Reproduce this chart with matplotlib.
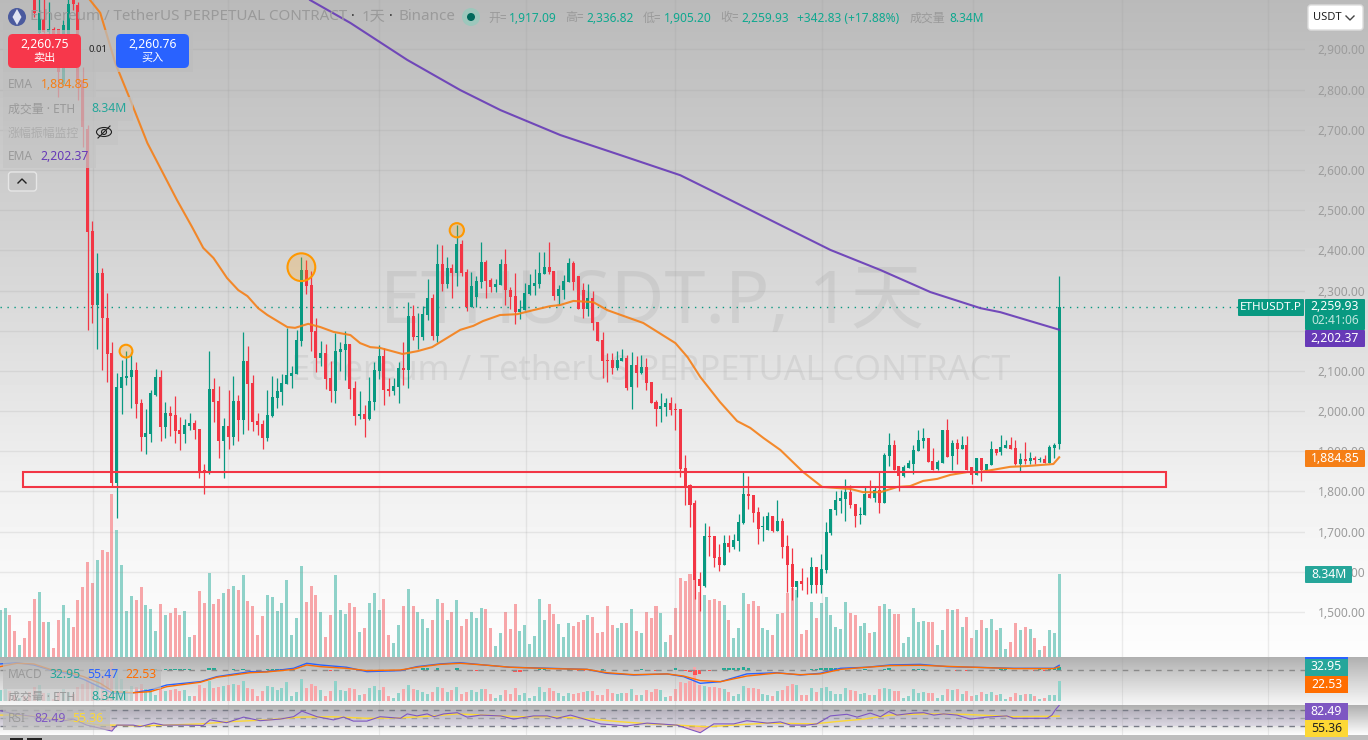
import numpy as np
import matplotlib
matplotlib.use('Agg')
import matplotlib.pyplot as plt
from matplotlib.patches import Rectangle, FancyBboxPatch, Circle, Ellipse, Polygon
from matplotlib.transforms import Bbox, TransformedBbox
from matplotlib.ticker import FuncFormatter

plt.rcParams['font.family'] = ['Noto Sans', 'Noto Sans CJK SC', 'DejaVu Sans']

# DATA - daily candles, first ones sit above the visible range
open_px = [3110,3130,3170,3150,3125,3140,3105,3060,2940,2977,
2944,2952,2950,2815,2915,3030,3010,2824,2703,2448,
2264,2344,2231,2144,1821,2057,2082,2085,2102,2020,
1935,1943,2040,2085,1960,1995,1990,1952,1943,1962,
1970,1955,1853,1848,2055,2025,1925,1963,1935,2025,
1978,2124,2070,1975,1967,1933,1988,2032,2047,2067,
2087,2092,2174,2351,2314,2199,2132,2144,2082,2050,
2147,2152,2168,2057,1987,1992,1980,2022,2099,2137,
2055,2050,2060,2107,2102,2236,2184,2184,2239,2281,
2187,2366,2316,2356,2344,2416,2346,2259,2284,2321,
2371,2326,2309,2314,2366,2301,2286,2246,2251,2291,
2311,2316,2341,2358,2348,2286,2301,2321,2368,2336,
2301,2254,2281,2221,2177,2127,2127,2107,2124,2132,
2060,2114,2095,2110,2072,2022,2005,2010,2020,2005,
2005,1858,1815,1770,1581,1564,1689,1689,1637,1616,
1671,1661,1676,1721,1793,1791,1748,1711,1704,1739,
1701,1726,1664,1619,1562,1577,1573,1567,1612,1567,
1604,1696,1753,1776,1781,1798,1768,1741,1741,1793,
1783,1803,1771,1888,1915,1863,1838,1858,1868,1900,
1925,1933,1875,1855,1870,1953,1888,1920,1905,1915,
1861,1841,1883,1853,1865,1905,1897,1908,1915,1908,
1868,1880,1875,1883,1878,1880,1870,1908,1917.09]

close_px = [3130,3170,3150,3125,3140,3105,3060,2990,2990,2944,
2952,2928,2845,2960,3013,3013,2825,2706,2446,2264,
2344,2231,2142,1821,2060,2085,2088,2102,2017,1935,
1945,2045,2085,1960,1995,1988,1950,1943,1965,1970,
1953,1848,1848,2055,2022,1925,1963,1935,2025,1978,
2124,2067,1973,1965,1933,1990,2035,2050,2070,2090,
2095,2177,2351,2311,2197,2132,2144,2080,2050,2149,
2154,2167,2055,1987,1992,1980,2025,2102,2137,2052,
2050,2062,2107,2102,2236,2184,2187,2241,2281,2187,
2366,2316,2356,2344,2416,2344,2259,2311,2324,2371,
2324,2309,2316,2366,2301,2284,2246,2254,2294,2314,
2319,2344,2358,2346,2286,2304,2324,2368,2321,2254,
2254,2281,2219,2174,2124,2124,2107,2127,2132,2057,
2114,2095,2110,2070,2020,2005,2012,2020,2002,2002,
1855,1808,1766,1579,1564,1689,1687,1635,1616,1671,
1661,1679,1724,1793,1788,1746,1706,1714,1739,1701,
1726,1661,1616,1562,1577,1569,1571,1612,1567,1606,
1699,1756,1778,1783,1798,1766,1738,1744,1793,1783,
1803,1771,1890,1915,1853,1838,1861,1870,1903,1928,
1933,1873,1853,1873,1953,1885,1920,1905,1915,1853,
1841,1883,1853,1868,1905,1895,1910,1915,1905,1868,
1880,1875,1883,1878,1880,1870,1910,1915,2259.93]

high_px = [3150,3190,3185,3165,3160,3150,3115,3075,3030,3030,
3019,2957,2952,2973,3030,3040,3019,2857,2712,2473,
2393,2356,2294,2172,2095,2127,2149,2147,2122,2030,
2005,2052,2105,2102,2022,2012,2037,1985,1980,1995,
1977,1955,1868,2149,2082,2062,1983,2052,2087,2040,
2197,2162,2090,1995,1977,2052,2087,2082,2092,2207,
2112,2202,2383,2376,2348,2232,2174,2167,2124,2194,
2172,2199,2168,2075,2050,2015,2085,2122,2164,2157,
2082,2082,2122,2172,2271,2264,2244,2261,2329,2291,
2416,2413,2383,2366,2463,2426,2354,2346,2336,2421,
2376,2331,2329,2378,2403,2309,2344,2276,2319,2341,
2353,2396,2396,2421,2348,2314,2339,2381,2373,2336,
2319,2316,2299,2221,2197,2144,2144,2149,2154,2139,
2147,2137,2139,2132,2072,2027,2045,2032,2035,2020,
2005,1890,1818,1778,1598,1720,1714,1689,1670,1691,
1691,1694,1744,1848,1838,1791,1761,1738,1748,1739,
1778,1734,1691,1658,1577,1608,1587,1636,1612,1644,
1724,1756,1802,1803,1831,1816,1768,1761,1811,1828,
1811,1848,1895,1945,1928,1863,1866,1878,1915,1953,
1958,1933,1908,1878,1953,1980,1928,1930,1938,1938,
1861,1883,1883,1868,1925,1905,1940,1928,1935,1928,
1895,1923,1898,1888,1885,1890,1915,1920,2336.82]

low_px = [3090,3110,3135,3105,3110,3085,3040,2980,2925,2940,
2932,2915,2782,2811,2900,2998,2774,2658,2202,2218,
2154,2102,2073,1812,1734,1992,2065,2007,1983,1900,
1893,1923,2037,1925,1933,1938,1920,1903,1920,1953,
1930,1833,1793,1843,1972,1883,1833,1905,1915,1925,
1943,1953,1950,1940,1905,1925,1985,2007,2015,2067,
2057,2092,2162,2291,2149,2097,2112,2055,2022,2020,
2100,2077,2031,1965,1980,1935,1977,2002,2080,2015,
2037,2040,2020,2065,2057,2177,2154,2177,2226,2177,
2172,2299,2306,2281,2311,2336,2249,2259,2259,2306,
2281,2296,2296,2314,2264,2254,2217,2229,2251,2289,
2289,2306,2341,2341,2276,2264,2279,2321,2301,2254,
2231,2236,2202,2174,2082,2072,2092,2102,2124,2052,
2005,2060,2092,2052,2020,1963,1972,1988,1990,1953,
1835,1766,1712,1533,1503,1563,1640,1612,1602,1616,
1649,1656,1651,1719,1756,1724,1669,1676,1704,1699,
1701,1633,1549,1529,1538,1554,1544,1548,1548,1548,
1596,1691,1741,1745,1726,1758,1711,1719,1741,1783,
1774,1746,1771,1863,1853,1802,1836,1858,1843,1900,
1908,1873,1853,1853,1870,1885,1853,1868,1905,1853,
1818,1841,1826,1853,1865,1890,1890,1908,1905,1866,
1851,1868,1868,1868,1873,1870,1870,1883,1905.20]

# volume in millions
volume_m = [4.7,4.9,4.2,2.6,1.2,1.9,3.6,5.8,6.5,3.5,
3.5,0.9,3.7,5.2,3.9,3.0,5.7,7.0,9.5,7.4,
9.7,10.7,10.5,16.4,12.8,9.2,4.6,6.1,5.7,7.0,
5.2,4.8,2.6,5.3,4.2,4.4,4.9,4.2,4.6,2.0,
2.2,6.6,5.4,8.4,5.3,5.8,6.4,6.8,7.1,6.7,
8.2,5.6,5.1,2.2,4.1,6.2,6.0,4.6,5.4,7.7,
2.2,3.9,9.1,5.5,7.1,6.2,4.5,2.0,4.2,8.2,
4.7,4.3,5.4,5.0,2.5,2.9,5.4,6.4,4.7,5.8,
2.2,1.4,3.2,5.1,6.8,5.1,4.5,3.8,2.9,3.7,
5.8,5.4,3.7,4.5,5.7,3.1,3.8,4.5,3.9,4.9,
4.8,2.9,1.1,2.4,4.5,2.8,5.3,2.6,3.2,1.3,
2.1,5.8,3.7,5.3,4.3,3.3,2.0,3.4,3.1,3.5,
3.7,4.2,4.0,2.4,2.5,5.1,3.2,2.9,3.4,3.4,
4.8,2.6,2.4,4.5,3.9,5.1,4.4,1.5,2.2,4.9,
7.9,7.6,8.3,14.1,6.5,6.2,5.7,5.8,5.6,5.2,
3.7,1.9,2.9,6.4,5.3,5.6,5.1,2.9,2.7,2.2,
4.3,4.4,6.4,6.9,6.7,2.3,2.7,5.5,3.9,5.4,
6.0,4.2,3.0,2.8,5.5,4.4,4.2,3.1,3.4,2.4,
2.5,5.1,5.3,4.8,4.3,4.3,1.4,2.0,4.9,3.5,
3.6,3.5,3.5,1.2,2.7,4.8,4.7,4.8,3.0,4.0,
1.9,2.7,3.7,2.9,3.8,2.7,2.9,0.8,1.5,3.4,
2.7,3.0,2.8,1.9,0.7,1.1,2.7,2.4,8.34]

ema_short_i = [18.5,20.6,23.7,26.8,30.3,36.4,39.5,41.8,43.9,46.7,49,50.9,53.1,55,59.1,60.7,63.4,65.9,68.6,72.1,
74.1,76.2,78.2,82.8,85.9,88.9,94.7,97.4,99.4,102.9,106.4,109.7,113.2,115.3,118,122.1,125,132.4,139,141.5,
144.1,148.2,151.7,154.4,157.1,160.6,165.3,169.2,175,177.6,181.2,184.7,187.3,190,192.9,195.6,199.1,201.7,207.9,211.4,216.8,218]
ema_short = [3023,2991,2866,2774,2667,2525,2458,2406,2381,2331,2301,2286,2256,2239,2209,2207,2217,2209,2197,2189,
2169,2159,2157,2142,2149,2159,2202,2212,2224,2239,2241,2251,2261,2264,2274,2271,2251,2219,2169,2134,
2085,2022,1975,1958,1933,1903,1848,1811,1806,1798,1798,1811,1813,1826,1831,1841,1848,1848,1861,1863,1868,1884.85]

ema_long_i = [63.8,72.1,83.8,94.7,103,115.3,127.7,140,148.2,160.6,170.9,181.2,191.5,201.8,205.9,218]
ema_long = [3023,2966,2874,2799,2749,2687,2637,2587,2538,2463,2401,2351,2296,2256,2246,2202.37]

macd_i = [0,3.4,6.9,10.3,13.7,17.2,20.6,23.3,27.4,30.9,34.3,41.2,44.6,51.5,54.9,60.4,63.1,65.9,71.3,75.5,
82.4,85.8,90.6,94.7,99.6,105,113.3,120.8,124.9,130.4,137.3,140.7,144.1,148.3,153.7,159.9,164.7,168.8,173,178.4,
183.2,189.4,194.9,200.4,208.6,216.9,218]
macd_line = [42,50,35,2,-20,-60,-112,-152,-148,-130,-97,-75,-42,-9,-9,13,46,35,20,-9,
-2,24,42,50,35,20,13,6,-20,-31,-24,-42,-86,-75,-24,-16,-31,-20,13,20,
35,39,24,20,13,13,32.95]
macd_signal = [24,46,42,6,-9,-42,-86,-141,-148,-141,-108,-79,-46,-16,-11,6,35,24,13,-2,
2,20,39,46,35,20,11,6,-16,-29,-24,-38,-68,-75,-38,-18,-29,-24,6,20,
31,33,26,20,11,11,22.53]

hist_up_i = [32,34,35,36,37,38,39,43,44,48,50,55,56,57,58,60,87,88,90,94,111,112,117,124,132,139,149,150,151,152,153,154,167,168,169,170,171,172,178,182,183,188,189,190,206,207,214,216,217,218]
hist_up = [8,8,6,8,6,8,6,14,12,10,8,8,8,8,10,8,14,14,14,14,8,8,8,6,10,12,12,14,16,18,20,18,6,10,14,16,18,12,8,8,14,10,10,10,8,10,8,8,14,20]
hist_dn_i = [67,68,97,98,106,107,119,120,133,135,140,141,142,143,144,146,147,197,199,202,209,211,213,215]
hist_dn = [-8,-8,-6,-6,-10,-10,-6,-6,-6,-6,-8,-8,-14,-34,-22,-6,-6,-6,-6,-6,-6,-6,-8,-8]

rsi_i = [0,2.1,6.9,10.3,12.3,15.1,17.8,20.6,23,24,27.4,28.8,31.6,33.6,37.7,41.8,43.2,46.6,50.1,53.5,57.6,60.4,62.1,65.2,68.6,70.7,72.7,75.5,78.2,
82.4,83.8,85.8,87.9,89.3,91.3,94.1,96.1,98.9,103,105.7,109.8,112.6,114.6,117.4,120.8,123.6,129,133.2,139.3,144.1,146.9,151,153.7,157.9,160.6,
162.7,166.1,168.1,170.9,174.3,176.4,179.1,181.2,182.9,184.6,188,190.1,192.2,194.2,197,199.7,203.1,207.2,208.6,215.5,216.5,217.2,218]
rsi_val = [69,63,54,46,42,48,33,25,18,33,33,29,38,33,33,32,46,39,53,44,48,54,68,54,46,53,43,43,54,
50,61,56,61,54,61,64,53,58,56,48,56,56,50,58,46,36,31,38,33,14,36,36,44,38,41,
33,33,36,56,60,53,63,54,67,58,63,64,58,61,58,48,53,56,50,50,58,71,82.49]
rsi_ma_i = [0,3.4,8.2,12.3,17.2,20.6,23.3,28.8,34.3,41.2,48,54.9,61.7,68.6,75.5,82.3,89.3,94.1,99.6,106.4,113.3,120.1,127,133.9,139.3,145.5,151,157.9,167.5,172.3,177.8,183.2,190.1,198.3,208.6,218]
rsi_ma = [58,58,54,48,39,33,33,31,33,36,42,46,53,54,50,51,56,61,58,54,54,50,42,36,33,29,33,38,36,42,48,58,61,60,54,55.36]

price_ticks = [1500,1600,1700,1800,1900,2000,2100,2200,2300,2400,2500,2600,2700,2800,2900]
month_ticks = [19.1,46.9,78,108.3,139,169.2,200.3,231,261]
zone_left, zone_right, zone_low, zone_high = 4.7,240,1811,1848
marks_i = [25.9,62,94]
marks_price = [2149,2358,2450]
marks_size = [85,400,105]
last_price = 2259.93

UP = '#089981'
DOWN = '#f23645'
UP_VOL = '#8fd2c9'
DOWN_VOL = '#f7a6a9'
W, H = 1368, 740

opens = np.array(open_px)
closes = np.array(close_px)
x = np.arange(len(opens))
is_up = closes >= opens
candle_c = np.where(is_up, UP, DOWN)
vol_c = np.where(is_up, UP_VOL, DOWN_VOL)


def pane(top, bottom, left=0, right=1305):
    return [left/W, 1-bottom/H, (right-left)/W, (bottom-top)/H]


fig = plt.figure(figsize=(13.68, 7.40), dpi=100)

# background gradients
bg = fig.add_axes([0, 0, 1, 1], zorder=0)
rows = np.arange(H)
shade = np.interp(rows, [0, 200, 320, 480, 560, 656, 657, 680, 704, 705, 734, 735, 739], [186, 207, 220, 240, 247, 253, 176, 212, 246, 176, 252, 190, 190])
bg.imshow(shade[:, None], cmap='gray', vmin=0, vmax=255, aspect='auto', extent=[0, W, H, 0], interpolation='nearest')
bg.axis('off')

XLIM = (-0.04, 268.6)

# volume under the candles
vol = fig.add_axes(pane(0, 657), zorder=1, facecolor='none')
vol.bar(x, volume_m, width=0.62, color=vol_c, linewidth=0)
vol.set_xlim(XLIM)
vol.set_ylim(0, 66.0)
vol.axis('off')

# main price pane
ax = fig.add_axes(pane(0, 657), zorder=2, facecolor='none')
ax.set_xlim(XLIM)
ax.set_ylim(1387.6, 3023.2)
ax.grid(True, color='#9a9a9a', alpha=0.18, linewidth=1)
ax.set_axisbelow(True)
ax.set_xticks(month_ticks)
ax.set_yticks(price_ticks)
ax.yaxis.tick_right()
ax.yaxis.set_major_formatter(FuncFormatter(lambda v, p: f'{v:,.2f}'))
ax.tick_params(axis='y', length=0, pad=9, labelsize=8.6, labelcolor='#9c9c9c')
ax.tick_params(axis='x', length=0, labelbottom=False)
for s in ax.spines.values():
    s.set_visible(False)

# watermark
ov_mark = fig.add_axes([0, 0, 1, 1], zorder=1.5, facecolor='none')
ov_mark.set_xlim(0, W)
ov_mark.set_ylim(H, 0)
ov_mark.axis('off')
ov_mark.text(652, 304, 'ETHUSDT.P, 1天', fontsize=53, color='#8c8c8c', alpha=0.16, ha='center', va='center')
ov_mark.text(651, 371, 'Ethereum / TetherUS PERPETUAL CONTRACT', fontsize=24.7, color='#8c8c8c', alpha=0.16, ha='center', va='center')

ax.vlines(x, low_px, high_px, colors=candle_c, linewidth=0.9, zorder=3)
ax.bar(x, np.abs(closes-opens), bottom=np.minimum(opens, closes), width=0.62, color=candle_c, linewidth=0, zorder=4)

ax.plot(ema_short_i, ema_short, color='#f57f17', linewidth=1.5, alpha=0.9, zorder=5)
ax.plot(ema_long_i, ema_long, color='#673ab7', linewidth=1.5, alpha=0.9, zorder=5)
ax.axhline(last_price, color=UP, linewidth=1, linestyle=(0, (1, 4)), zorder=2)

ax.add_patch(Rectangle((zone_left, zone_low), zone_right-zone_left, zone_high-zone_low, facecolor='white', alpha=0.35, linewidth=0, zorder=2))
ax.add_patch(Rectangle((zone_left, zone_low), zone_right-zone_left, zone_high-zone_low, fill=False, edgecolor=DOWN, linewidth=1.5, zorder=6))
ax.scatter(marks_i, marks_price, s=marks_size, facecolor=(1, 0.6, 0, 0.22), edgecolor='#ff9800', linewidth=1.5, zorder=6)

# macd pane, its own volume sits in the lower part
vol2 = fig.add_axes(pane(658, 705), zorder=1, facecolor='none')
vol2.bar(x, volume_m, width=0.62, color=vol_c, linewidth=0)
vol2.set_xlim(XLIM)
vol2.set_ylim(-1.67, 17.9)
vol2.axis('off')

md = fig.add_axes(pane(658, 705), zorder=2, facecolor='none')
md.set_xlim(XLIM)
md.set_ylim(-229, 81)
md.set_xticks(month_ticks)
md.set_yticks([])
md.grid(True, axis='x', color='#9a9a9a', alpha=0.18)
md.tick_params(length=0, labelbottom=False)
for s in md.spines.values():
    s.set_visible(False)
md.axhline(0, color='#8a8a8a', linewidth=1, linestyle=(0, (4, 4)))
md.bar(hist_up_i, hist_up, width=0.7, color='#22ab94', linewidth=0)
md.bar(hist_dn_i, hist_dn, width=0.7, color='#ff5252', linewidth=0)
md.plot(macd_i, macd_line, color='#2962ff', linewidth=1.0)
md.plot(macd_i, macd_signal, color='#ff6d00', linewidth=1.0)

# rsi pane
rs = fig.add_axes(pane(705, 735), zorder=2, facecolor='none')
rs.set_xlim(XLIM)
rs.set_ylim(8.25, 83.25)
rs.set_xticks(month_ticks)
rs.set_yticks([])
rs.grid(True, axis='x', color='#9a9a9a', alpha=0.18)
rs.tick_params(length=0, labelbottom=False)
for s in rs.spines.values():
    s.set_visible(False)
rs.axhspan(30, 70, color='#7e57c2', alpha=0.1, linewidth=0)
rs.axhline(70, color='#787b86', linewidth=1, linestyle=(0, (4, 4)))
rs.axhline(50, color='#9a9ca5', linewidth=1, linestyle=(0, (4, 4)))
rs.axhline(30, color='#787b86', linewidth=1, linestyle=(0, (4, 4)))
rs.plot(rsi_ma_i, rsi_ma, color='#fdd835', linewidth=1.0)
rs.plot(rsi_i, rsi_val, color='#7e57c2', linewidth=0.8)
rs.fill_between(rsi_i, rsi_val, 30, where=np.array(rsi_val) < 30, interpolate=True, color='#f23645', alpha=0.3, linewidth=0)

# UI on top, in pixels
ov = fig.add_axes([0, 0, 1, 1], zorder=5, facecolor='none')
ov.set_xlim(0, W)
ov.set_ylim(H, 0)
ov.axis('off')


def box(x0, y0, x1, y1, color, alpha=1.0, r=0):
    if r:
        p = FancyBboxPatch((x0, y0), x1-x0, y1-y0, boxstyle=f'round,pad=0,rounding_size={r}', facecolor=color, edgecolor='none', alpha=alpha)
    else:
        p = Rectangle((x0, y0), x1-x0, y1-y0, facecolor=color, edgecolor='none', alpha=alpha)
    ov.add_patch(p)
    return p


def txt(x0, y0, s, color='#9a9a9a', size=8.6, ha='left', **kw):
    return ov.text(x0, y0, s, color=color, fontsize=size, ha=ha, va='center', **kw)


# legend masks
box(3, 30, 193, 72, '#bdbdbd', 0.72)
box(3, 72, 96, 97, '#c0c0c0', 0.72)
box(3, 97, 133, 121, '#c2c2c2', 0.72)
box(3, 121, 118, 145, '#c4c4c4', 0.72)
box(3, 145, 96, 168, '#c5c5c5', 0.72)
box(3, 5, 30, 30, '#bbbbbb', 0.5)

ov.add_patch(Circle((17, 17), 9, facecolor='#4a5a9e', edgecolor='none'))
ov.add_patch(Polygon([[17, 9], [21.5, 17], [17, 25], [12.5, 17]], facecolor='#dfe3f2', edgecolor='none'))
txt(30, 17, 'Ethereum / TetherUS PERPETUAL CONTRACT', size=10.9)
txt(351, 17, '·', color='#333333', size=10)
txt(362, 17, '1天', size=10.9)
txt(389, 17, '·', color='#333333', size=10)
txt(398, 17, 'Binance', size=10.9)
ov.add_patch(Circle((471, 17), 9, facecolor='#9dc7bc', edgecolor='none'))
ov.add_patch(Circle((471, 17), 4, facecolor='#00695c', edgecolor='none'))
GREEN = '#0ea88f'
txt(488, 18, '开=', size=8.6)
txt(509, 18, '1,917.09', GREEN, 8.6)
txt(565, 18, '高=', size=8.6)
txt(586, 18, '2,336.82', GREEN, 8.6)
txt(643, 18, '低=', size=8.6)
txt(664, 18, '1,905.20', GREEN, 8.6)
txt(720, 18, '收=', size=8.6)
txt(741, 18, '2,259.93', GREEN, 8.6)
txt(797, 18, '+342.83 (+17.88%)', GREEN, 8.6)
txt(910, 18, '成交量', size=8.6)
txt(949, 18, '8.34M', GREEN, 8.6)

box(8, 34, 81, 68, '#f7374b', r=5)
txt(44.5, 44, '2,260.75', 'white', 8.8, ha='center', fontweight='bold')
txt(44.5, 58, '卖出', 'white', 8, ha='center')
txt(98, 50, '0.01', '#222222', 6.8, ha='center')
box(116, 34, 189, 68, '#2962ff', r=5)
txt(152.5, 44, '2,260.76', 'white', 8.8, ha='center', fontweight='bold')
txt(152.5, 58, '买入', 'white', 8, ha='center')

txt(8, 85, 'EMA')
txt(41, 85, '1,884.85', '#f57f17', 8.8)
txt(8, 109, '成交量 · ETH')
txt(91, 109, '8.34M', '#26a69a', 8.8)
txt(8, 133, '涨幅振幅监控', color='#adadad')
ov.add_patch(Ellipse((104, 132), 15, 9, fill=False, edgecolor='#222222', linewidth=0.8))
ov.add_patch(Circle((104, 132), 2.5, fill=False, edgecolor='#222222', linewidth=0.8))
ov.plot([98, 110], [138, 126], color='#222222', linewidth=0.8)
txt(8, 157, 'EMA')
txt(40, 157, '2,202.37', '#673ab7', 8.8)
ov.add_patch(FancyBboxPatch((8.5, 172), 28, 19, boxstyle='round,pad=0,rounding_size=3', facecolor='#c6c6c6', edgecolor='#e6e6e6', linewidth=1))
ov.plot([18, 22, 26], [183, 179, 183], color='#222222', linewidth=1.0)

# USDT selector
ov.add_patch(FancyBboxPatch((1308, 5), 55, 25, boxstyle='round,pad=0,rounding_size=3', facecolor='white', edgecolor='#dddddd', linewidth=1))
txt(1313, 17, 'USDT', '#222222', 8)
ov.plot([1346, 1350, 1354], [16, 20, 16], color='#444444', linewidth=1)

# scale labels
box(1238, 299, 1304, 316, UP, r=1)
txt(1271, 307, 'ETHUSDT.P', 'white', 8.4, ha='center')
box(1305, 299, 1365, 330, UP, r=1)
txt(1335, 307, '2,259.93', 'white', 8.8, ha='center')
txt(1335, 321, '02:41:06', '#bfe6de', 8.6, ha='center')
box(1305, 330, 1365, 347, '#673ab7', r=1)
txt(1335, 338, '2,202.37', 'white', 8.8, ha='center')
box(1305, 450, 1365, 467, '#f57f17', r=1)
txt(1335, 458, '1,884.85', 'white', 8.8, ha='center')
box(1305, 566, 1352, 583, '#26a69a', r=1)
txt(1328.5, 574.5, '8.34M', 'white', 8.8, ha='center')

box(1305, 658, 1348, 676, '#26a69a')
box(1305, 657, 1348, 658.5, '#2962ff')
txt(1326.5, 667, '32.95', 'white', 8.8, ha='center')
box(1305, 676, 1348, 693, '#ff6d00')
txt(1326.5, 684.5, '22.53', 'white', 8.8, ha='center')
box(1305, 703, 1348, 720, '#7e57c2')
txt(1326.5, 711.5, '82.49', 'white', 8.8, ha='center')
box(1305, 720, 1348, 737, '#fdd835')
txt(1326.5, 728.5, '55.36', '#222222', 8.8, ha='center')

# pane legends
box(3, 662, 161, 689, '#bcbcbc', 0.72)
txt(8, 675, 'MACD')
txt(49, 675, '32.95', '#26a69a', 8.8)
txt(87, 675, '55.47', '#2962ff', 8.8)
txt(125, 675, '22.53', '#ff6d00', 8.8)
box(3, 689, 133, 701, '#d0d0d0', 0.72)
row = txt(8, 697, '成交量 · ETH')
row2 = txt(91, 697, '8.34M', '#26a69a', 8.8)
clip = TransformedBbox(Bbox([[0, 690], [140, 701]]), ov.transData)
row.set_clip_box(clip)
row.set_clip_on(True)
row2.set_clip_box(clip)
row2.set_clip_on(True)
box(3, 707, 110, 730, '#bcbcbc', 0.72)
txt(8, 719, 'RSI')
txt(34, 719, '82.49', '#7e57c2', 8.8)
txt(72, 719, '55.36', '#fdd835', 8.8)

box(10, 738, 23, 740, '#222222')
box(27, 738, 42, 740, '#222222')

fig.savefig('out.png', dpi=100)
